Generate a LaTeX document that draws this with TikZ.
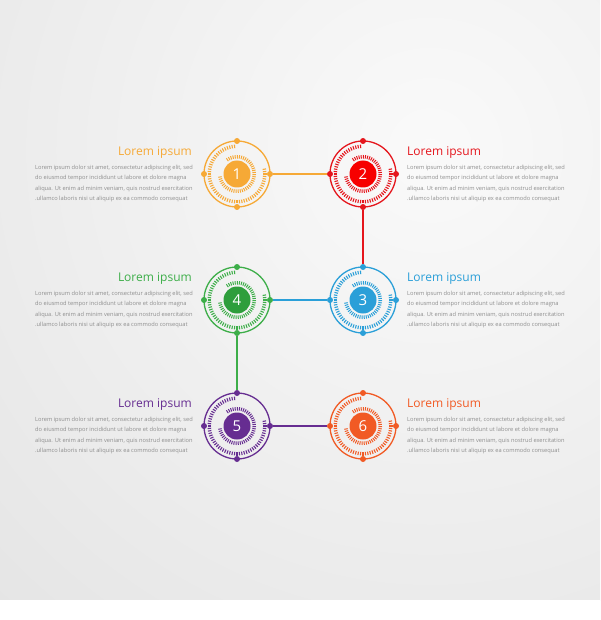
\documentclass[tikz,border=0pt]{standalone}
\usepackage{fontspec}
\setmainfont{Open Sans}
\definecolor{cOr}{HTML}{F6A936}
\definecolor{cRd}{HTML}{E5161D}
\definecolor{cRdD}{HTML}{F70000}
\definecolor{cGn}{HTML}{3DAE49}
\definecolor{cGnD}{HTML}{2E9E3C}
\definecolor{cBl}{HTML}{2A9FD8}
\definecolor{cPu}{HTML}{662D91}
\definecolor{cOo}{HTML}{F15A24}
\definecolor{txtgray}{HTML}{8E8E8E}
\newcommand\loremtext{Lorem ipsum dolor sit amet, consectetur adipiscing elit, sed\\do eiusmod tempor incididunt ut labore et dolore magna\\aliqua. Ut enim ad minim veniam, quis nostrud exercitation\\.ullamco laboris nisi ut aliquip ex ea commodo consequat}
% #1 name, #2 position, #3 ring colour, #4 disk colour, #5 number
\newcommand\badge[5]{%
  \node[ring, draw=#3] (#1) at (#2) {};
  \foreach \ang in {95,100,...,370} \draw[#3, line width=1.1pt] (#2) ++(\ang:26pt) -- ++(\ang:3.5pt);
  \foreach \ang in {190,197,...,485} \draw[#3, line width=1pt] (#2) ++(\ang:15.5pt) -- ++(\ang:3.5pt);
  \node[disk, fill=#4] (#1n) at (#2) {#5};
  \foreach \anc in {north,south,east,west} \fill[#3] (#1.\anc) circle (3pt);
}
\begin{document}
\begin{tikzpicture}[x=1pt,y=-1pt,
  ring/.style={circle, line width=1.3pt, minimum size=66pt, inner sep=0pt, outer sep=0pt},
  disk/.style={circle, minimum size=27pt, inner sep=0pt, text=white, font=\fontsize{15}{15}\selectfont},
  conn/.style={line width=1.4pt, shorten <=3pt, shorten >=3pt},
  ttl/.style={inner sep=0pt, font=\fontsize{12}{12}\selectfont},
  body/.style={inner sep=0pt, align=left, text=txtgray, font=\fontsize{5.7}{10.6}\selectfont}]
\useasboundingbox (0,0) rectangle (600,620);
% background
\fill[black!14] (0,0) rectangle (600,600);
\begin{scope}
\clip (0,0) rectangle (600,600);
\shade[inner color=white!98!black, outer color=black!15] (430,150) circle (1000pt);
\end{scope}
\fill[white] (0,600) rectangle (600,620);
% badges
\badge{b1}{237,174}{cOr}{cOr}{1}
\badge{b2}{363,174}{cRd}{cRdD}{2}
\badge{b4}{237,300}{cGn}{cGnD}{4}
\badge{b3}{363,300}{cBl}{cBl}{3}
\badge{b5}{237,426}{cPu}{cPu}{5}
\badge{b6}{363,426}{cOo}{cOo}{6}
% connectors
\draw[conn, cOr] (b1.east) -- (b2.west);
\draw[conn, cRd] (b2.south) -- (b3.north);
\draw[conn, cBl] (b4.east) -- (b3.west);
\draw[conn, cGn] (b4.south) -- (b5.north);
\draw[conn, cPu] (b5.east) -- (b6.west);
% texts left
\node[ttl, text=cOr, anchor=base east] (t1) at (192,155.5) {Lorem ipsum};
\node[ttl, text=cGn, anchor=base east] (t4) at (192,281.5) {Lorem ipsum};
\node[ttl, text=cPu, anchor=base east] (t5) at (192,407.5) {Lorem ipsum};
\node[body, anchor=north west] (d1) at (35,164.5) {\loremtext};
\node[body, anchor=north west] (d4) at (35,290.5) {\loremtext};
\node[body, anchor=north west] (d5) at (35,416.5) {\loremtext};
% texts right
\node[ttl, text=cRd, anchor=base west] (t2) at (407,155.5) {Lorem ipsum};
\node[ttl, text=cBl, anchor=base west] (t3) at (407,281.5) {Lorem ipsum};
\node[ttl, text=cOo, anchor=base west] (t6) at (407,407.5) {Lorem ipsum};
\node[body, anchor=north west] (d2) at (407,164.5) {\loremtext};
\node[body, anchor=north west] (d3) at (407,290.5) {\loremtext};
\node[body, anchor=north west] (d6) at (407,416.5) {\loremtext};
\end{tikzpicture}
\end{document}
